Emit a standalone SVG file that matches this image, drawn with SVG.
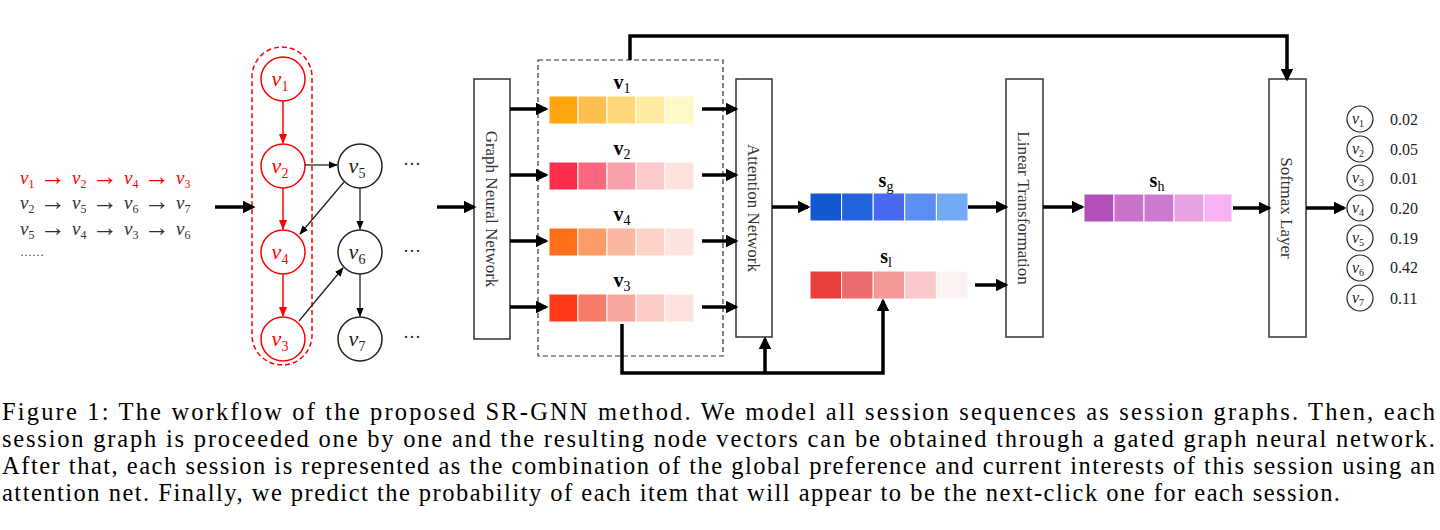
<svg xmlns="http://www.w3.org/2000/svg" width="1440" height="530" viewBox="0 0 1440 530">
<defs>
<style>
text{font-family:"Liberation Serif","DejaVu Serif",serif}
.m{font-style:italic;font-size:19px}
.r{fill:#f00}
.s{font-size:12px;font-style:normal}
.box{fill:#fff;stroke:#333;stroke-width:1.5}
.th{stroke:#000;stroke-width:3.5;fill:none}
.vl{font-weight:bold;font-size:20px;text-anchor:middle}
.rot{font-size:17px;fill:#333;text-anchor:middle}
.cap{font-size:24.5px}
</style>
<marker id="ah" viewBox="0 0 10 10" refX="8" refY="5" markerWidth="3.6" markerHeight="3.6" orient="auto"><path d="M0,0L10,5L0,10z"/></marker>
<marker id="as" viewBox="0 0 10 10" refX="9" refY="5" markerWidth="7" markerHeight="7" orient="auto"><path d="M0,1L10,5L0,9z"/></marker>
<marker id="asr" viewBox="0 0 10 10" refX="9" refY="5" markerWidth="7" markerHeight="7" orient="auto"><path d="M0,1L10,5L0,9z" fill="#f00"/></marker>
</defs>
<rect width="1440" height="530" fill="#fff"/>
<g id="sequences">
<g class="m r"><text x="20" y="184">v<tspan class="s" dy="4">1</tspan></text><text x="72" y="184">v<tspan class="s" dy="4">2</tspan></text><text x="124" y="184">v<tspan class="s" dy="4">4</tspan></text><text x="176" y="184">v<tspan class="s" dy="4">3</tspan></text></g>
<g class="m" fill="#333"><text x="20" y="209">v<tspan class="s" dy="4">2</tspan></text><text x="72" y="209">v<tspan class="s" dy="4">5</tspan></text><text x="124" y="209">v<tspan class="s" dy="4">6</tspan></text><text x="176" y="209">v<tspan class="s" dy="4">7</tspan></text></g>
<g class="m" fill="#333"><text x="20" y="235">v<tspan class="s" dy="4">5</tspan></text><text x="72" y="235">v<tspan class="s" dy="4">4</tspan></text><text x="124" y="235">v<tspan class="s" dy="4">3</tspan></text><text x="176" y="235">v<tspan class="s" dy="4">6</tspan></text></g>
<g font-size="26" text-anchor="middle"><g fill="#f00"><text x="53" y="185">→</text><text x="105" y="185">→</text><text x="157" y="185">→</text></g>
<g fill="#333"><text x="53" y="210">→</text><text x="105" y="210">→</text><text x="157" y="210">→</text><text x="53" y="236">→</text><text x="105" y="236">→</text><text x="157" y="236">→</text></g></g>
<text x="20" y="256" font-size="12" fill="#333">……</text>
</g>
<g id="graph">
<rect x="252" y="47" width="60" height="318" rx="30" fill="none" stroke="#f00" stroke-width="1.5" stroke-dasharray="5,3"/>
<g fill="#fff" stroke="#f00" stroke-width="1.5">
<circle cx="283" cy="79" r="22"/><circle cx="283" cy="166" r="22"/><circle cx="283" cy="252" r="22"/><circle cx="283" cy="339" r="22"/>
</g>
<g fill="#fff" stroke="#222" stroke-width="1.5">
<circle cx="360" cy="166" r="22"/><circle cx="360" cy="252" r="22"/><circle cx="360" cy="339" r="22"/>
</g>
<g class="r" text-anchor="middle" font-size="22" font-style="italic">
<text x="280" y="86">v<tspan font-size="14" font-style="normal" dy="5">1</tspan></text>
<text x="280" y="173">v<tspan font-size="14" font-style="normal" dy="5">2</tspan></text>
<text x="280" y="259">v<tspan font-size="14" font-style="normal" dy="5">4</tspan></text>
<text x="280" y="346">v<tspan font-size="14" font-style="normal" dy="5">3</tspan></text>
</g>
<g fill="#222" text-anchor="middle" font-size="22" font-style="italic">
<text x="357" y="173">v<tspan font-size="14" font-style="normal" dy="5">5</tspan></text>
<text x="357" y="259">v<tspan font-size="14" font-style="normal" dy="5">6</tspan></text>
<text x="357" y="346">v<tspan font-size="14" font-style="normal" dy="5">7</tspan></text>
</g>
<g font-size="18" fill="#222"><text x="403" y="170">···</text><text x="403" y="257">···</text><text x="403" y="343">···</text></g>
</g>
<g id="gnn"><rect class="box" x="474" y="79" width="36" height="260"/><text class="rot" transform="translate(486,209) rotate(90)">Graph Neural Network</text></g>
<g id="att"><rect class="box" x="736" y="79" width="36" height="258"/><text class="rot" transform="translate(748,208) rotate(90)">Attention Network</text></g>
<g id="lt"><rect class="box" x="1006" y="79" width="37" height="258"/><text class="rot" transform="translate(1018,208) rotate(90)">Linear Transformation</text></g>
<g id="sm"><rect class="box" x="1269" y="79" width="37" height="258"/><text class="rot" transform="translate(1281,208) rotate(90)">Softmax Layer</text></g>
<g id="nodevectors">
<rect x="538" y="60" width="185" height="296" fill="none" stroke="#333" stroke-width="1.2" stroke-dasharray="5,3"/>
<g stroke="#fff" stroke-width="1">
<rect x="549" y="96" width="29" height="28" fill="#FFA510"/><rect x="578" y="96" width="29" height="28" fill="#FDC050"/><rect x="607" y="96" width="29" height="28" fill="#FDD878"/><rect x="636" y="96" width="29" height="28" fill="#FEEBA0"/><rect x="665" y="96" width="29" height="28" fill="#FFF8C8"/>
<rect x="549" y="162" width="29" height="28" fill="#FF2E4C"/><rect x="578" y="162" width="29" height="28" fill="#FA6880"/><rect x="607" y="162" width="29" height="28" fill="#F8A0AC"/><rect x="636" y="162" width="29" height="28" fill="#FCCACA"/><rect x="665" y="162" width="29" height="28" fill="#FDE2E0"/>
<rect x="549" y="228" width="29" height="28" fill="#FF6E18"/><rect x="578" y="228" width="29" height="28" fill="#FC9A6A"/><rect x="607" y="228" width="29" height="28" fill="#FBB8A0"/><rect x="636" y="228" width="29" height="28" fill="#FDD3C8"/><rect x="665" y="228" width="29" height="28" fill="#FEE3DE"/>
<rect x="549" y="294" width="29" height="28" fill="#FF3A18"/><rect x="578" y="294" width="29" height="28" fill="#F97A68"/><rect x="607" y="294" width="29" height="28" fill="#F6A89C"/><rect x="636" y="294" width="29" height="28" fill="#FBCCC6"/><rect x="665" y="294" width="29" height="28" fill="#FDE2DE"/>
</g>
<text class="vl" x="622" y="89">v<tspan font-size="14" font-weight="normal" dy="4">1</tspan></text>
<text class="vl" x="622" y="155">v<tspan font-size="14" font-weight="normal" dy="4">2</tspan></text>
<text class="vl" x="622" y="221">v<tspan font-size="14" font-weight="normal" dy="4">4</tspan></text>
<text class="vl" x="622" y="287">v<tspan font-size="14" font-weight="normal" dy="4">3</tspan></text>
</g>
<g id="sg">
<g stroke="#fff" stroke-width="1"><rect x="810" y="193" width="31.6" height="28" fill="#1258D0"/><rect x="841.6" y="193" width="31.6" height="28" fill="#2262DC"/><rect x="873.2" y="193" width="31.6" height="28" fill="#4868F0"/><rect x="904.8" y="193" width="31.6" height="28" fill="#5A8EF2"/><rect x="936.4" y="193" width="31.6" height="28" fill="#72AAF6"/></g>
<text class="vl" x="886" y="187">s<tspan font-size="14" font-weight="normal" dy="4">g</tspan></text>
</g>
<g id="sl">
<g stroke="#fff" stroke-width="1"><rect x="810" y="271" width="31.6" height="28" fill="#EA4040"/><rect x="841.6" y="271" width="31.6" height="28" fill="#EA6C6C"/><rect x="873.2" y="271" width="31.6" height="28" fill="#F29898"/><rect x="904.8" y="271" width="31.6" height="28" fill="#F8C8CA"/><rect x="936.4" y="271" width="31.6" height="28" fill="#FDF2F2"/></g>
<text class="vl" x="886" y="263">s<tspan font-size="14" font-weight="normal" dy="4">l</tspan></text>
</g>
<g id="sh">
<g stroke="#fff" stroke-width="1"><rect x="1084" y="194" width="30" height="28" fill="#B050B8"/><rect x="1114" y="194" width="30" height="28" fill="#C872CC"/><rect x="1144" y="194" width="30" height="28" fill="#CC7AD0"/><rect x="1174" y="194" width="30" height="28" fill="#E8A2E4"/><rect x="1204" y="194" width="28" height="28" fill="#F8B2F4"/></g>
<text class="vl" x="1157" y="187">s<tspan font-size="14" font-weight="normal" dy="4">h</tspan></text>
</g>
<g id="output" font-size="16" fill="#222">
<g fill="none" stroke="#222" stroke-width="1.2">
<circle cx="1360" cy="119" r="13"/><circle cx="1360" cy="149" r="13"/><circle cx="1360" cy="178" r="13"/><circle cx="1360" cy="208" r="13"/><circle cx="1360" cy="238" r="13"/><circle cx="1360" cy="268" r="13"/><circle cx="1360" cy="298" r="13"/>
</g>
<g font-style="italic" font-size="16" text-anchor="middle">
<text x="1358" y="124">v<tspan font-size="10" font-style="normal" dy="3">1</tspan></text>
<text x="1358" y="154">v<tspan font-size="10" font-style="normal" dy="3">2</tspan></text>
<text x="1358" y="183">v<tspan font-size="10" font-style="normal" dy="3">3</tspan></text>
<text x="1358" y="213">v<tspan font-size="10" font-style="normal" dy="3">4</tspan></text>
<text x="1358" y="243">v<tspan font-size="10" font-style="normal" dy="3">5</tspan></text>
<text x="1358" y="273">v<tspan font-size="10" font-style="normal" dy="3">6</tspan></text>
<text x="1358" y="303">v<tspan font-size="10" font-style="normal" dy="3">7</tspan></text>
</g>
<text x="1390" y="125">0.02</text><text x="1390" y="155">0.05</text><text x="1390" y="184">0.01</text><text x="1390" y="214">0.20</text><text x="1390" y="244">0.19</text><text x="1390" y="273">0.42</text><text x="1390" y="304">0.11</text>
</g>
<g id="connectors">
<g stroke="#f00" stroke-width="1.5" marker-end="url(#asr)">
<line x1="283" y1="101" x2="283" y2="143"/><line x1="283" y1="188" x2="283" y2="229"/><line x1="283" y1="274" x2="283" y2="316"/>
</g>
<g stroke="#222" stroke-width="1.3" marker-end="url(#as)">
<line x1="305" y1="165" x2="337" y2="165"/><line x1="344" y1="182" x2="300" y2="234"/><line x1="360" y1="188" x2="360" y2="229"/><line x1="360" y1="274" x2="360" y2="316"/><line x1="299" y1="321" x2="343" y2="268"/>
</g>
<g class="th" marker-end="url(#ah)">
<line x1="215" y1="207" x2="253" y2="207"/><line x1="437" y1="207" x2="474" y2="207"/>
<line x1="510" y1="109" x2="546" y2="109"/><line x1="510" y1="175" x2="546" y2="175"/><line x1="510" y1="241" x2="546" y2="241"/><line x1="510" y1="307" x2="546" y2="307"/>
<line x1="702" y1="109" x2="736" y2="109"/><line x1="702" y1="175" x2="736" y2="175"/><line x1="702" y1="241" x2="736" y2="241"/><line x1="702" y1="307" x2="736" y2="307"/>
<line x1="772" y1="207" x2="808" y2="207"/>
<line x1="968" y1="207" x2="1006" y2="207"/><line x1="975" y1="285" x2="1006" y2="285"/>
<line x1="1043" y1="207" x2="1082" y2="207"/><line x1="1233" y1="208" x2="1269" y2="208"/><line x1="1306" y1="208" x2="1344" y2="208"/>
<polyline points="630,60 630,36 1287,36 1287,79"/>
<polyline points="622,324 622,373 883,373 883,301"/>
<line x1="765" y1="373" x2="765" y2="339"/>
</g>
</g>
<g id="caption" class="cap" fill="#000">
<text x="2" y="420" textLength="1433" lengthAdjust="spacing">Figure 1: The workflow of the proposed SR-GNN method. We model all session sequences as session graphs. Then, each</text>
<text x="2" y="447" textLength="1433" lengthAdjust="spacing">session graph is proceeded one by one and the resulting node vectors can be obtained through a gated graph neural network.</text>
<text x="2" y="474" textLength="1433" lengthAdjust="spacing">After that, each session is represented as the combination of the global preference and current interests of this session using an</text>
<text x="2" y="501" textLength="1338" lengthAdjust="spacing">attention net. Finally, we predict the probability of each item that will appear to be the next-click one for each session.</text>
</g>
</svg>
